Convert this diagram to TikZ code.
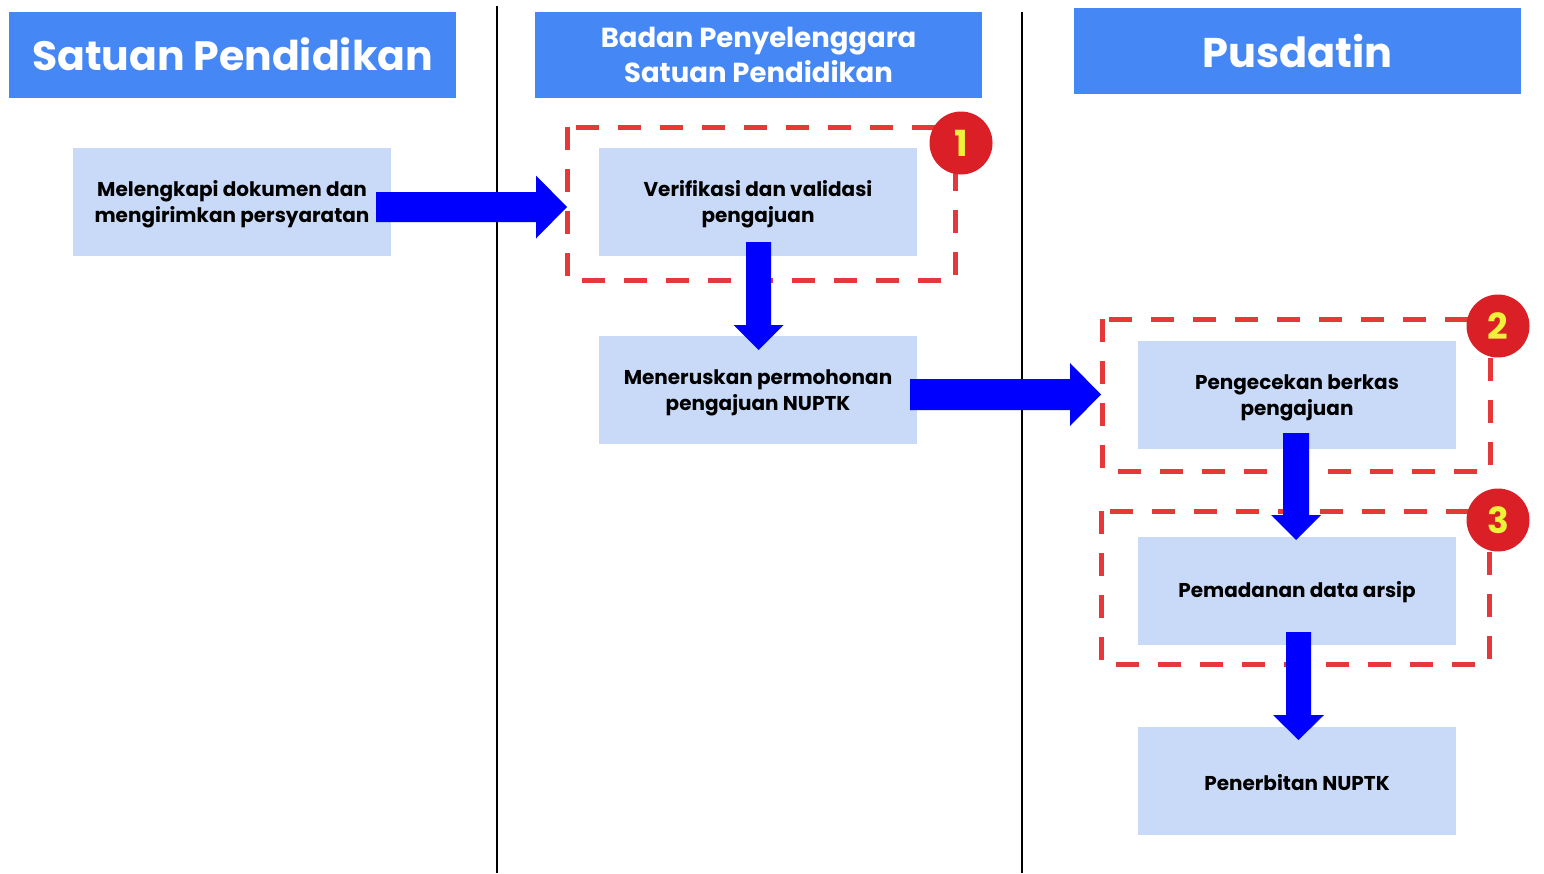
\documentclass[tikz,border=0pt]{standalone}
\usepackage{fontspec}
\setmainfont{Poppins}[BoldFont={Poppins Bold}]
\usetikzlibrary{calc}
\definecolor{hdrblue}{RGB}{69,136,245}
\definecolor{boxblue}{RGB}{201,218,248}
\definecolor{arrblue}{RGB}{0,0,255}
\definecolor{dashred}{RGB}{229,57,57}
\definecolor{badgered}{RGB}{218,31,38}
\definecolor{badgeyel}{RGB}{238,242,58}
\tikzset{
  header/.style={fill=hdrblue, text=white, font=\bfseries, align=center, inner sep=0pt, minimum width=447pt, minimum height=86pt},
  stepbox/.style={fill=boxblue, inner sep=0pt, minimum width=318pt, minimum height=108pt},
  steptext/.style={text=black, font=\bfseries\fontsize{20}{26}\selectfont, align=center, inner sep=0pt, yshift=-3pt},
  zone/.style={draw=dashred, line width=5pt, dash pattern=on 23pt off 19pt},
  badge/.style={circle, fill=badgered, text=badgeyel, font=\bfseries\fontsize{36}{36}\selectfont, minimum size=63pt, inner sep=0pt},
  lane/.style={draw=black, line width=2pt},
}
\newcommand\hfat[4]{%
  \fill[arrblue] let \p1=#1, \p2=#2 in
    (\x1,\y2+#3) -- (\x2-31pt,\y2+#3) -- (\x2-31pt,\y2+#4) -- (\x2,\y2) --
    (\x2-31pt,\y2-#4) -- (\x2-31pt,\y2-#3) -- (\x1,\y2-#3) -- cycle;}
\newcommand\vfat[4]{%
  \fill[arrblue] let \p1=#1, \p2=#2 in
    (\x2-#3,\y1) -- (\x2-#3,\y2+25pt) -- (\x2-#4,\y2+25pt) -- (\x2,\y2) --
    (\x2+#4,\y2+25pt) -- (\x2+#3,\y2+25pt) -- (\x2+#3,\y1) -- cycle;}
\begin{document}
\begin{tikzpicture}[x=1pt,y=-1pt]
\useasboundingbox (0,0) rectangle (1544,873);
% lanes
\coordinate (l1t) at (497,6); \coordinate (l1b) at (497,873);
\coordinate (l2t) at (1022,12); \coordinate (l2b) at (1022,873);
\draw[lane] (l1t) -- (l1b);
\draw[lane] (l2t) -- (l2b);
% headers
\node[header, font=\bfseries\fontsize{41}{41}\selectfont] (h1) at (232.5,54.5) {Satuan Pendidikan};
\node[header, font=\bfseries\fontsize{27.5}{35}\selectfont] (h2) at (758.5,54.5) {Badan Penyelenggara\\Satuan Pendidikan};
\node[header, font=\bfseries\fontsize{41.5}{41.5}\selectfont] (h3) at (1297.5,51) {Pusdatin};
% boxes
\node[stepbox, label={[steptext]center:{Melengkapi dokumen dan\\mengirimkan persyaratan}}] (a) at (232,201.5) {};
\node[stepbox, label={[steptext]center:{Verifikasi dan validasi\\pengajuan}}] (b) at (758,201.5) {};
\node[stepbox, label={[steptext]center:{Meneruskan permohonan\\pengajuan NUPTK}}] (c) at (758,390) {};
\node[stepbox, label={[steptext]center:{Pengecekan berkas\\pengajuan}}] (d) at (1297,395) {};
\node[stepbox, label={[steptext, yshift=1.5pt]center:{Pemadanan data arsip}}] (e) at (1297,591) {};
\node[stepbox, label={[steptext, yshift=1.5pt]center:{Penerbitan NUPTK}}] (f) at (1297,781) {};
% zones
\draw[zone] (567,127) rectangle (955,280);
\draw[zone] (1102,319) rectangle (1490,471);
\draw[zone] (1101,511) rectangle (1489,664);
% arrows
\coordinate (a1s) at (376,207); \coordinate (a1e) at (567,207);
\hfat{(a1s)}{(a1e)}{15pt}{31.5pt}
\coordinate (a2s) at (758.5,242); \coordinate (a2e) at (758.5,350);
\vfat{(a2s)}{(a2e)}{12.5pt}{25pt}
\coordinate (a3s) at (910,394.5); \coordinate (a3e) at (1101,394.5);
\hfat{(a3s)}{(a3e)}{15.5pt}{31.5pt}
\coordinate (a4s) at (1296,433); \coordinate (a4e) at (1296,540);
\vfat{(a4s)}{(a4e)}{13pt}{25pt}
\coordinate (a5s) at (1298.5,632); \coordinate (a5e) at (1298.5,740);
\vfat{(a5s)}{(a5e)}{12.5pt}{25.5pt}
% badges
\node[badge] (n1) at (961,143) {1};
\node[badge] (n2) at (1498,326) {2};
\node[badge] (n3) at (1498,520) {3};
\end{tikzpicture}
\end{document}
